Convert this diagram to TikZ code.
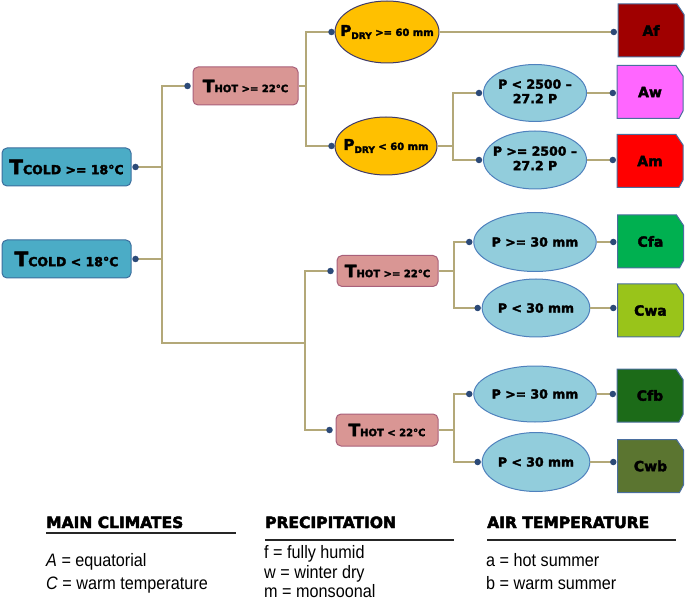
\documentclass[tikz,border=0pt]{standalone}
\usepackage{fontspec}
\setmainfont{Liberation Sans}
\newfontfamily\nodefont[BoldFeatures={FakeBold=2.5}]{DejaVu Sans}
\newfontfamily\hdrfont[BoldFeatures={FakeBold=3}]{DejaVu Sans}
\newfontfamily\legfont[FakeStretch=0.9]{Liberation Sans}
\usetikzlibrary{shapes.geometric}
\definecolor{linec}{HTML}{B3A878}
\definecolor{dotc}{HTML}{2C4A78}
\definecolor{tcfill}{HTML}{4BACC6}
\definecolor{tcdraw}{HTML}{3C6E9E}
\definecolor{thfill}{HTML}{D99694}
\definecolor{thdraw}{HTML}{A8607A}
\definecolor{pdfill}{HTML}{FFC000}
\definecolor{pddraw}{HTML}{3E3A6A}
\definecolor{pfill}{HTML}{92CDDC}
\definecolor{pdraw}{HTML}{4F81BD}
\definecolor{tagdraw}{HTML}{4A6E9E}
\definecolor{cAf}{HTML}{A00000}
\definecolor{cAw}{HTML}{FF66FF}
\definecolor{cAm}{HTML}{FF0000}
\definecolor{cCfa}{HTML}{00B050}
\definecolor{cCwa}{HTML}{99C41A}
\definecolor{cCfb}{HTML}{1C6B18}
\definecolor{cCwb}{HTML}{5B7530}
\newcommand\zw[1]{\makebox[0pt]{#1}}
\newcommand\tlab[3]{{\fontsize{#1}{#1}\selectfont T}{\fontsize{#2}{#2}\selectfont #3}}
\newcommand\pdrylab[1]{\zw{{\fontsize{15}{15}\selectfont P}\raisebox{-3pt}{\fontsize{9}{9}\selectfont DRY}{\fontsize{10}{10}\selectfont\ #1}}}
\newcommand\twolab[2]{\zw{\fontsize{12.5}{14.5}\selectfont\begin{tabular}{@{}c@{}}#1\\#2\end{tabular}}}
\newcommand\tagbox[5]{%
  \filldraw[fill=#4, draw=tagdraw, line width=1pt]
    ({#2-33},{#3-26.5}) -- ({#2+26},{#3-26.5}) -- ({#2+33},{#3-16}) --
    ({#2+33},{#3+19}) -- ({#2+29},{#3+26.5}) -- ({#2-33},{#3+26.5}) -- cycle;
  \node[taglab] (#1) at (#2,#3) {#5};}
\tikzset{
  conn/.style={draw=linec, line width=1.3pt},
  dotn/.style={circle, fill=dotc, inner sep=0pt, minimum size=6.5pt},
  tcbox/.style={rectangle, rounded corners=5pt, fill=tcfill, draw=tcdraw, line width=1pt,
    minimum width=129pt, minimum height=38pt, inner sep=0pt, font=\nodefont\bfseries},
  thbox/.style={rectangle, rounded corners=5pt, fill=thfill, draw=thdraw, line width=1pt,
    inner sep=0pt, font=\nodefont\bfseries},
  pdell/.style={ellipse, fill=pdfill, draw=pddraw, line width=1pt, inner sep=0pt,
    minimum width=104pt, minimum height=60pt, font=\nodefont\bfseries},
  pell/.style={ellipse, fill=pfill, draw=pdraw, line width=1pt, inner sep=0pt,
    minimum width=103pt, minimum height=58pt, font=\nodefont\bfseries\fontsize{12.5}{14}\selectfont},
  taglab/.style={rectangle, inner sep=0pt, minimum width=66pt, minimum height=53pt,
    font=\nodefont\bfseries\fontsize{14}{14}\selectfont},
  hdr/.style={anchor=base west, inner sep=0pt, font=\hdrfont\bfseries\fontsize{15.5}{16}\selectfont},
  leg/.style={anchor=base west, inner sep=0pt, font=\legfont\fontsize{18}{20}\selectfont},
  uline/.style={draw=black!85, line width=1.8pt}
}
\begin{document}
\begin{tikzpicture}[x=1pt, y=-1pt]
\useasboundingbox (0,0) rectangle (685,601);
% level 1
\node[tcbox] (tc1) at (66.5,167) {\tlab{20}{12.5}{COLD >= 18°C}};
\node[tcbox] (tc2) at (66.5,259) {\tlab{20}{12.5}{COLD < 18°C}};
% level 2
\node[thbox, minimum width=105pt, minimum height=38pt] (th1) at (245.5,86) {\tlab{17}{10}{HOT >= 22°C}};
\node[thbox, minimum width=101pt, minimum height=31pt] (th2) at (387.5,271) {\tlab{17}{10}{HOT >= 22°C}};
\node[thbox, minimum width=102pt, minimum height=32pt] (th3) at (387,430) {\tlab{17}{10}{HOT < 22°C}};
% level 3
\node[pdell, minimum height=62pt] (pd1) at (387,32) {\pdrylab{>= 60 mm}};
\node[pdell, minimum width=102pt, minimum height=58pt] (pd2) at (386,146) {\pdrylab{< 60 mm}};
\node[pell, minimum height=57pt] (pa1) at (535,93) {\twolab{P < 2500 –}{27.2 P}};
\node[pell] (pa2) at (535,160) {\twolab{P >= 2500 –}{27.2 P}};
\node[pell, minimum height=59pt] (pc1) at (535,242) {P >= 30 mm};
\node[pell] (pc2) at (536,308) {P < 30 mm};
\node[pell, minimum height=56pt] (pc3) at (535,394) {P >= 30 mm};
\node[pell, minimum height=59pt] (pc4) at (536,462) {P < 30 mm};
% classes
\tagbox{af}{651}{30.5}{cAf}{Af}
\tagbox{aw}{650}{92}{cAw}{Aw}
\tagbox{am}{650}{161}{cAm}{Am}
\tagbox{cfa}{650.5}{241.5}{cCfa}{Cfa}
\tagbox{cwa}{650.5}{310.5}{cCwa}{Cwa}
\tagbox{cfb}{650}{395.5}{cCfb}{Cfb}
\tagbox{cwb}{650.5}{466}{cCwb}{Cwb}
% dots (positions)
\coordinate (p-tc1) at ([xshift=4pt]tc1.east);
\coordinate (p-tc2) at ([xshift=4pt]tc2.east);
\coordinate (p-th1) at ([xshift=-5pt]th1.west);
\coordinate (p-th2) at ([xshift=-6pt]th2.west);
\coordinate (p-th3) at ([xshift=-6pt]th3.west);
\coordinate (p-pd1) at ([xshift=-3pt]pd1.west);
\coordinate (p-pd2) at ([xshift=-3pt]pd2.west);
\coordinate (p-pa1) at ([xshift=-4pt]pa1.west);
\coordinate (p-pa2) at ([xshift=-4pt]pa2.west);
\coordinate (p-pc1) at ([xshift=-4pt]pc1.west);
\coordinate (p-pc2) at ([xshift=-4pt]pc2.west);
\coordinate (p-pc3) at ([xshift=-4pt]pc3.west);
\coordinate (p-pc4) at ([xshift=-4pt]pc4.west);
\foreach \n in {af,aw,am,cfa,cwa,cfb,cwb}{\coordinate (p-\n) at ([xshift=-4pt]\n.west);}
% junctions
\coordinate (J0) at (162,343);
\coordinate (J1) at (305,343);
\coordinate (J2) at (306,86);
\coordinate (J3) at (453,146);
\coordinate (J4) at (454,271);
\coordinate (J5) at (454,430);
% connectors
\draw[conn] (p-tc1) -- (p-tc1 -| J0);
\draw[conn] (p-tc2) -- (p-tc2 -| J0);
\draw[conn] (p-th1) -| (J0) -- (J1) |- (p-th3);
\draw[conn] (p-th2) -| (J1);
\draw[conn] (th1.east) -- (J2);
\draw[conn] (p-pd1) -| (J2) |- (p-pd2);
\draw[conn] (pd1.east) -- (p-af |- pd1.east);
\draw[conn] (pd2.east) -- (J3);
\draw[conn] (p-pa1) -| (J3) |- (p-pa2);
\draw[conn] (pa1.east) -- (p-aw |- pa1.east);
\draw[conn] (pa2.east) -- (p-am |- pa2.east);
\draw[conn] (th2.east) -- (J4);
\draw[conn] (p-pc1) -| (J4) |- (p-pc2);
\draw[conn] (pc1.east) -- (p-cfa |- pc1.east);
\draw[conn] (pc2.east) -- (p-cwa |- pc2.east);
\draw[conn] (th3.east) -- (J5);
\draw[conn] (p-pc3) -| (J5) |- (p-pc4);
\draw[conn] (pc3.east) -- (p-cfb |- pc3.east);
\draw[conn] (pc4.east) -- (p-cwb |- pc4.east);
% dots
\foreach \n in {tc1,tc2,th1,th2,th3,pd1,pd2,pa1,pa2,pc1,pc2,pc3,pc4}{\node[dotn] (d-\n) at (p-\n) {};}
\node[dotn] (d-af) at (p-af |- pd1.east) {};
\node[dotn] (d-aw) at (p-aw |- pa1.east) {};
\node[dotn] (d-am) at (p-am |- pa2.east) {};
\node[dotn] (d-cfa) at (p-cfa |- pc1.east) {};
\node[dotn] (d-cwa) at (p-cwa |- pc2.east) {};
\node[dotn] (d-cfb) at (p-cfb |- pc3.east) {};
\node[dotn] (d-cwb) at (p-cwb |- pc4.east) {};
% legend
\node[hdr] (h1) at (46,528) {MAIN CLIMATES};
\node[hdr] (h2) at (265,528) {PRECIPITATION};
\node[hdr] (h3) at (487,528) {AIR TEMPERATURE};
\draw[uline] (46,533) -- (236,533);
\draw[uline] (265,540) -- (454,540);
\draw[uline] (487,540) -- (676,540);
\node[leg] (l1) at (46,566) {\itshape A\upshape{} = equatorial};
\node[leg] (l2) at (46,589) {\itshape C\upshape{} = warm temperature};
\node[leg] (l3) at (264,558) {f = fully humid};
\node[leg] (l4) at (264,578) {w = winter dry};
\node[leg] (l5) at (264,597) {m = monsoonal};
\node[leg] (l6) at (486,566) {a = hot summer};
\node[leg] (l7) at (486,589) {b = warm summer};
\end{tikzpicture}
\end{document}
